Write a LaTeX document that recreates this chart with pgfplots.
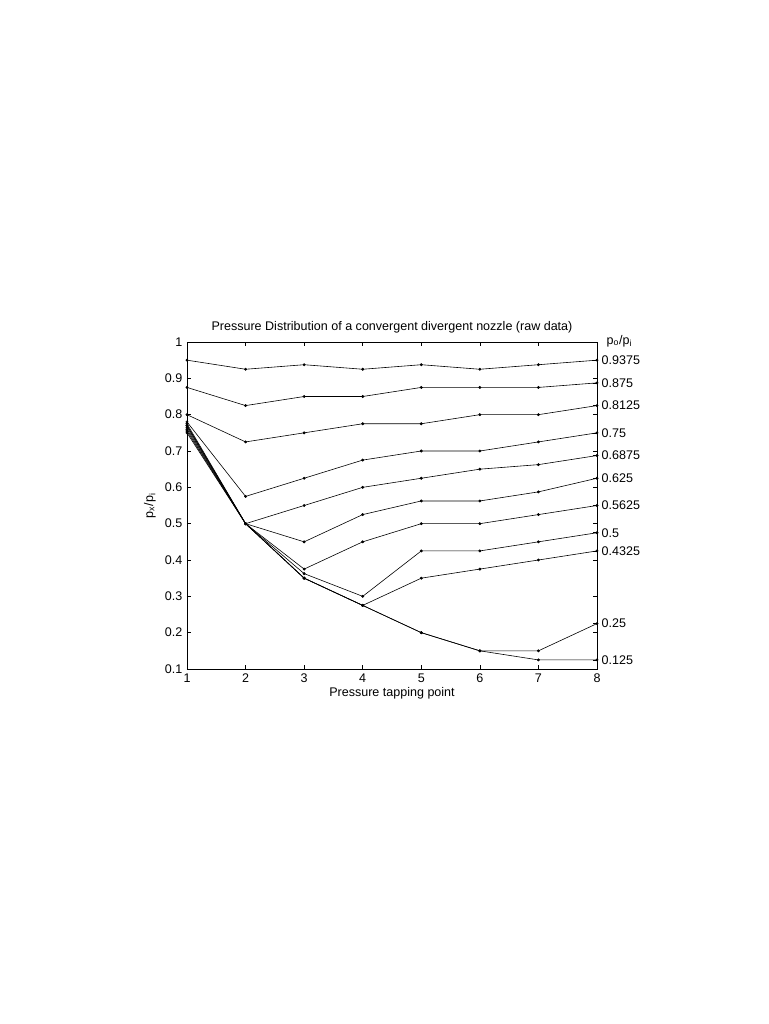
\documentclass[border=0pt]{standalone}
\usepackage{fontspec}
\setmainfont{Liberation Sans}
\usepackage{pgfplots}
\pgfplotsset{compat=1.18}
\begin{document}
\begin{tikzpicture}[font=\fontsize{9.4}{11}\selectfont]
\useasboundingbox (-140.25pt,-266.25pt) rectangle (435.75pt,501.75pt);
\begin{axis}[
  scale only axis, width=307.5pt, height=245.25pt,
  xmin=1, xmax=8, ymin=0.1, ymax=1,
  xtick={1,...,8},
  ytick={0.1,0.2,0.3,0.4,0.5,0.6,0.7,0.8,0.9,1},
  yticklabels={0.1,0.2,0.3,0.4,0.5,0.6,0.7,0.8,0.9,1},
  /pgf/number format/assume math mode=true,
  major tick length=3pt,
  axis line style={line width=0.5pt},
  tick style={line width=0.5pt, black},
  title={Pressure Distribution of a convergent divergent nozzle (raw data)},
  title style={yshift=-3pt},
  xlabel={Pressure tapping point},
  ylabel={p\textsubscript{x}/p\textsubscript{i}},
  xlabel style={yshift=3pt},
  ylabel style={yshift=0pt},
  every axis plot post/.append style={black, solid, line width=0.45pt, mark=*, mark size=0.85pt, mark options={solid, fill=black}},
]
\addplot coordinates {(1,0.95)(2,0.925)(3,0.9375)(4,0.925)(5,0.9375)(6,0.925)(7,0.9375)(8,0.95)};
\addplot coordinates {(1,0.875)(2,0.825)(3,0.85)(4,0.85)(5,0.875)(6,0.875)(7,0.875)(8,0.8875)};
\addplot coordinates {(1,0.8)(2,0.725)(3,0.75)(4,0.775)(5,0.775)(6,0.8)(7,0.8)(8,0.825)};
\addplot coordinates {(1,0.78)(2,0.575)(3,0.625)(4,0.675)(5,0.7)(6,0.7)(7,0.725)(8,0.75)};
\addplot coordinates {(1,0.775)(2,0.5)(3,0.55)(4,0.6)(5,0.625)(6,0.65)(7,0.6625)(8,0.6875)};
\addplot coordinates {(1,0.77)(2,0.5)(3,0.45)(4,0.525)(5,0.5625)(6,0.5625)(7,0.5875)(8,0.625)};
\addplot coordinates {(1,0.77)(2,0.5)(3,0.375)(4,0.45)(5,0.5)(6,0.5)(7,0.525)(8,0.55)};
\addplot coordinates {(1,0.765)(2,0.5)(3,0.3625)(4,0.3)(5,0.425)(6,0.425)(7,0.45)(8,0.475)};
\addplot coordinates {(1,0.76)(2,0.5)(3,0.35)(4,0.275)(5,0.35)(6,0.375)(7,0.4)(8,0.425)};
\addplot coordinates {(1,0.755)(2,0.5)(3,0.35)(4,0.275)(5,0.2)(6,0.15)(7,0.15)(8,0.225)};
\addplot coordinates {(1,0.75)(2,0.5)(3,0.35)(4,0.275)(5,0.2)(6,0.15)(7,0.125)(8,0.125)};
\end{axis}
\begin{axis}[
  name=ax2,
  scale only axis, width=307.5pt, height=245.25pt,
  xmin=1, xmax=8, ymin=0.1, ymax=1,
  hide x axis,
  axis y line*=right,
  axis line style={line width=0.5pt, -},
  major tick length=3pt,
  tick style={line width=0.5pt, black},
  ytick={0.95,0.8875,0.825,0.75,0.6875,0.625,0.55,0.475,0.425,0.225,0.125},
  yticklabels={0.9375,0.875,0.8125,0.75,0.6875,0.625,0.5625,0.5,0.4325,0.25,0.125},
]
\end{axis}
\node[anchor=south west, inner sep=0pt] at (ax2.north east) [xshift=7pt, yshift=-4pt] {p\textsubscript{o}/p\textsubscript{i}};
\end{tikzpicture}
\end{document}
